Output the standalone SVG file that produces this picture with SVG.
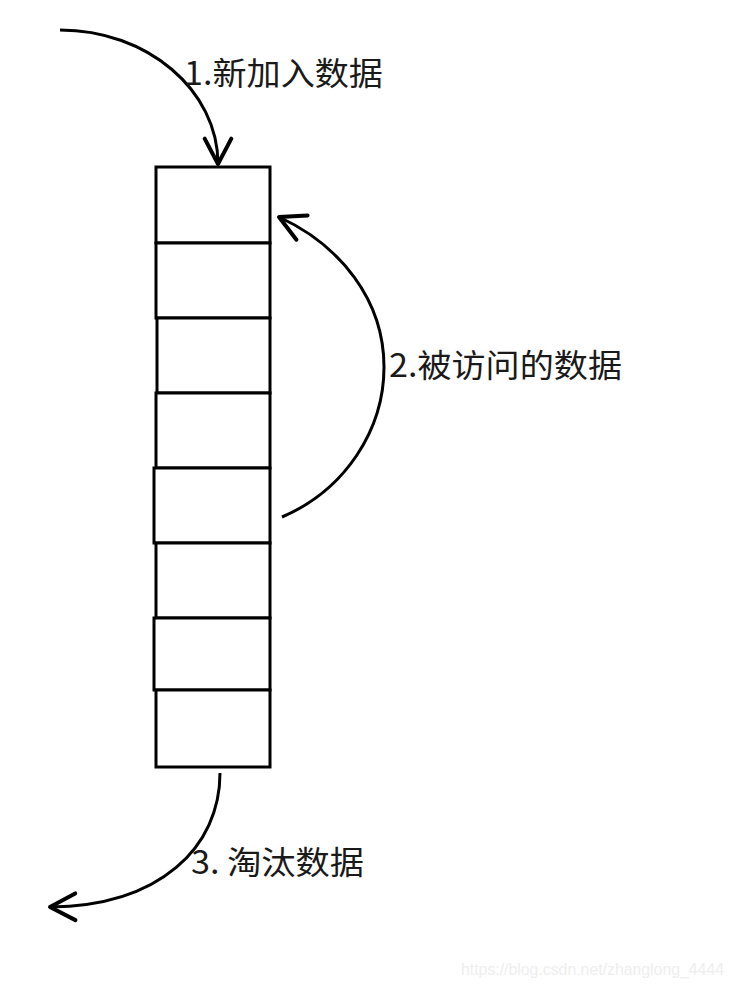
<svg xmlns="http://www.w3.org/2000/svg" width="734" height="986" viewBox="0 0 734 986">
<defs>
<style>
.cell{fill:#fff;stroke:#000;stroke-width:3}
.conn{fill:none;stroke:#000;stroke-width:3}
.lbl{font-family:"Noto Sans CJK SC","DejaVu Sans",sans-serif;font-size:32px;fill:#1a1a1a}
.wm{font-family:"Liberation Sans",Arial,sans-serif;font-size:16px;fill:#eeeeee}
</style>
<marker id="arr" markerUnits="userSpaceOnUse" markerWidth="40" markerHeight="40" viewBox="-25 -15 30 30" refX="0" refY="0" orient="auto" overflow="visible">
<path d="M-19,-10 L0,0 L-19,10" fill="none" stroke="#000" stroke-width="3" stroke-linecap="round" stroke-linejoin="round"/>
</marker>
</defs>
<rect width="734" height="986" fill="#fff"/>
<g id="queue">
<g id="cell1"><rect class="cell" x="156" y="167" width="114" height="76"/></g>
<g id="cell2"><rect class="cell" x="156" y="243" width="114" height="75"/></g>
<g id="cell3"><rect class="cell" x="157" y="318" width="113" height="75"/></g>
<g id="cell4"><rect class="cell" x="156" y="393" width="114" height="75"/></g>
<g id="cell5"><rect class="cell" x="154" y="468" width="116" height="75"/></g>
<g id="cell6"><rect class="cell" x="156" y="543" width="114" height="75"/></g>
<g id="cell7"><rect class="cell" x="154" y="618" width="116" height="72"/></g>
<g id="cell8"><rect class="cell" x="156" y="690" width="114" height="77"/></g>
</g>
<g id="connectors">
<path class="conn" d="M60,30 C147,30 218,90 218,164" marker-end="url(#arr)"/>
<path class="conn" d="M282,517 C345,490 384,430 384,367 C384,300 340,245 279,217" marker-end="url(#arr)"/>
<path class="conn" d="M220,773 C220,847 160,906 50,907" marker-end="url(#arr)"/>
</g>
<g id="labels">
<text class="lbl" x="184" y="85" textLength="199" lengthAdjust="spacingAndGlyphs">1.新加入数据</text>
<text class="lbl" x="389" y="377" textLength="233" lengthAdjust="spacingAndGlyphs">2.被访问的数据</text>
<text class="lbl" x="191" y="874" textLength="173" lengthAdjust="spacingAndGlyphs">3. 淘汰数据</text>
</g>
<text class="wm" x="461" y="975" textLength="263" lengthAdjust="spacingAndGlyphs">https://blog.csdn.net/zhanglong_4444</text>
</svg>
